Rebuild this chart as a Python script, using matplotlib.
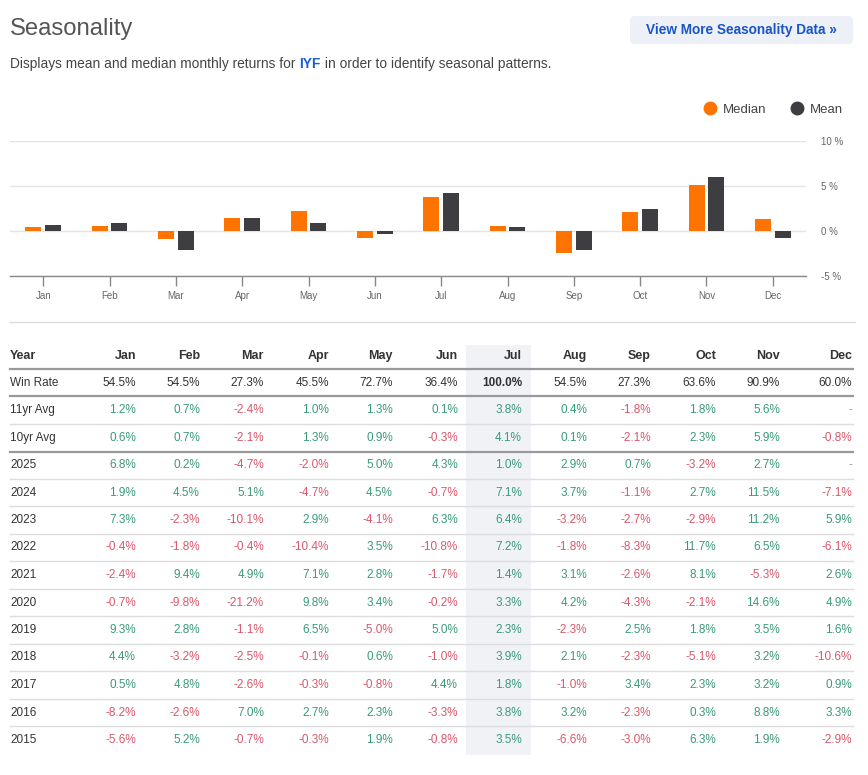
import numpy as np
import matplotlib
matplotlib.use("Agg")
import matplotlib.pyplot as plt
from matplotlib.lines import Line2D
from matplotlib.patches import Rectangle, FancyBboxPatch

plt.rcParams['font.family'] = ['Liberation Sans', 'DejaVu Sans']

months = ["Jan", "Feb", "Mar", "Apr", "May", "Jun",
          "Jul", "Aug", "Sep", "Oct", "Nov", "Dec"]

# chart values (% return)
median = [0.4, 0.6, -0.9, 1.4, 2.2, -0.8, 3.8, 0.6, -2.4, 2.1, 5.1, 1.3]
mean = [0.7, 0.9, -2.1, 1.4, 0.9, -0.3, 4.2, 0.4, -2.1, 2.4, 6.0, -0.8]

# table values
win_rate = [54.5, 54.5, 27.3, 45.5, 72.7, 36.4, 100.0, 54.5, 27.3, 63.6, 90.9, 60.0]
avg_11 = [1.2, 0.7, -2.4, 1.0, 1.3, 0.1, 3.8, 0.4, -1.8, 1.8, 5.6, None]
avg_10 = [0.6, 0.7, -2.1, 1.3, 0.9, -0.3, 4.1, 0.1, -2.1, 2.3, 5.9, -0.8]
years = ["2025", "2024", "2023", "2022", "2021", "2020",
         "2019", "2018", "2017", "2016", "2015"]
year_returns = [
    [6.8, 0.2, -4.7, -2.0, 5.0, 4.3, 1.0, 2.9, 0.7, -3.2, 2.7, None],
    [1.9, 4.5, 5.1, -4.7, 4.5, -0.7, 7.1, 3.7, -1.1, 2.7, 11.5, -7.1],
    [7.3, -2.3, -10.1, 2.9, -4.1, 6.3, 6.4, -3.2, -2.7, -2.9, 11.2, 5.9],
    [-0.4, -1.8, -0.4, -10.4, 3.5, -10.8, 7.2, -1.8, -8.3, 11.7, 6.5, -6.1],
    [-2.4, 9.4, 4.9, 7.1, 2.8, -1.7, 1.4, 3.1, -2.6, 8.1, -5.3, 2.6],
    [-0.7, -9.8, -21.2, 9.8, 3.4, -0.2, 3.3, 4.2, -4.3, -2.1, 14.6, 4.9],
    [9.3, 2.8, -1.1, 6.5, -5.0, 5.0, 2.3, -2.3, 2.5, 1.8, 3.5, 1.6],
    [4.4, -3.2, -2.5, -0.1, 0.6, -1.0, 3.9, 2.1, -2.3, -5.1, 3.2, -10.6],
    [0.5, 4.8, -2.6, -0.3, -0.8, 4.4, 1.8, -1.0, 3.4, 2.3, 3.2, 0.9],
    [-8.2, -2.6, 7.0, 2.7, 2.3, -3.3, 3.8, 3.2, -2.3, 0.3, 8.8, 3.3],
    [-5.6, 5.2, -0.7, -0.3, 1.9, -0.8, 3.5, -6.6, -3.0, 6.3, 1.9, -2.9],
]

ORANGE = "#ff7400"
DARK = "#3d3d42"
GREEN = "#3a9a78"
RED = "#d9576b"
TXT = "#333333"

W, H = 868, 775
fig = plt.figure(figsize=(W / 100, H / 100), dpi=100)


def fx(px):
    return px / W


def fy(py):
    return 1 - py / H


def hline(y, x0, x1, color, lw):
    fig.add_artist(Line2D([fx(x0), fx(x1)], [fy(y), fy(y)],
                          transform=fig.transFigure, color=color, lw=lw))


# header
fig.text(fx(10), fy(29), "Seasonality", fontsize=17.2, color="#555555",
         va="center", ha="left")
renderer = fig.canvas.get_renderer()
t1 = fig.text(fx(10), fy(64), "Displays mean and median monthly returns for ",
              fontsize=9.9, color="#444444", va="center")
bb = t1.get_window_extent(renderer)
t2 = fig.text(bb.x1 / W, fy(64), "IYF", fontsize=9.9, color="#1a5fd0",
              fontweight="bold", va="center")
bb = t2.get_window_extent(renderer)
fig.text(bb.x1 / W, fy(64), " in order to identify seasonal patterns.",
         fontsize=9.9, color="#444444", va="center")

btn = FancyBboxPatch((fx(630), fy(44)), fx(853) - fx(630), (44 - 16) / H,
                     boxstyle="round,pad=0,rounding_size=0.006",
                     transform=fig.transFigure, facecolor="#edf0f7",
                     edgecolor="none")
fig.add_artist(btn)
fig.text(fx(741), fy(30), "View More Seasonality Data »", fontsize=9.8,
         color="#1a56c4", fontweight="bold", ha="center", va="center")

# chart
ax = fig.add_axes([fx(10), fy(276), fx(806) - fx(10), (276 - 141) / H])
x = np.arange(len(months))
ax.bar(x - 0.15, median, 0.24, color=ORANGE, zorder=3, label="Median")
ax.bar(x + 0.15, mean, 0.24, color=DARK, zorder=3, label="Mean")
ax.set_xlim(-0.5, 11.5)
ax.set_ylim(-5, 10)
ax.set_yticks([-5, 0, 5, 10])
ax.set_yticklabels(["-5 %", "0 %", "5 %", "10 %"])
ax.yaxis.tick_right()
ax.tick_params(axis="y", length=0, pad=11, labelsize=7, labelcolor="#666666")
ax.set_xticks(x)
ax.set_xticklabels(months)
ax.tick_params(axis="x", length=7, width=1, color="#888888", pad=4,
               labelsize=7, labelcolor="#666666")
ax.grid(axis="y", color="#e4e4e4", lw=1, zorder=0)
for s in ["top", "left", "right"]:
    ax.spines[s].set_visible(False)
ax.spines["bottom"].set_color("#888888")
ax.spines["bottom"].set_linewidth(1)
ax.set_facecolor("none")

handles = [Line2D([], [], marker="o", ls="", color=ORANGE, markersize=9),
           Line2D([], [], marker="o", ls="", color=DARK, markersize=9)]
fig.legend(handles, ["Median", "Mean"], loc="center right",
           bbox_to_anchor=(fx(855), fy(110)), ncol=2, frameon=False,
           fontsize=9.5, labelcolor="#444444", handletextpad=0.5,
           columnspacing=1.8, handlelength=1.0)

hline(322, 10, 855, "#dddddd", 1)

# table
col_x = [136, 200, 264, 329, 393, 458, 522, 587, 651, 716, 780, 852]
fig.add_artist(Rectangle((fx(466), fy(755)), fx(531) - fx(466), (755 - 345) / H,
                         transform=fig.transFigure, facecolor="#f0f2f6",
                         edgecolor="none", zorder=0))

fig.text(fx(10), fy(356), "Year", fontsize=9, fontweight="bold", color=TXT,
         va="center")
for i, m in enumerate(months):
    fig.text(fx(col_x[i]), fy(356), m, fontsize=9, fontweight="bold",
             color=TXT, va="center", ha="right")


def value_text(v):
    if v is None:
        return "-", "#999999"
    return f"{v:.1f}%", GREEN if v >= 0 else RED


fig.text(fx(10), fy(383), "Win Rate", fontsize=8.5, color=TXT, va="center")
for i, v in enumerate(win_rate):
    fig.text(fx(col_x[i]), fy(383), f"{v:.1f}%", fontsize=8.5, color=TXT,
             va="center", ha="right",
             fontweight="bold" if v == max(win_rate) else "normal")

rows = [("11yr Avg", avg_11), ("10yr Avg", avg_10)] + list(zip(years, year_returns))
row_y = [410, 438] + [465 + 27.5 * k for k in range(len(years))]
for (label, vals), y in zip(rows, row_y):
    fig.text(fx(10), fy(y), label, fontsize=8.5, color=TXT, va="center")
    for i, v in enumerate(vals):
        s, c = value_text(v)
        fig.text(fx(col_x[i]), fy(y), s, fontsize=8.5, color=c,
                 va="center", ha="right")

hline(369, 10, 853, "#999999", 1.6)
hline(396, 10, 853, "#999999", 1.6)
hline(424, 10, 853, "#dddddd", 1)
hline(452, 10, 853, "#999999", 1.6)
for k in range(len(years) - 1):
    hline(row_y[2 + k] + 13.75, 10, 853, "#dddddd", 1)

fig.savefig("out.png", dpi=100)
